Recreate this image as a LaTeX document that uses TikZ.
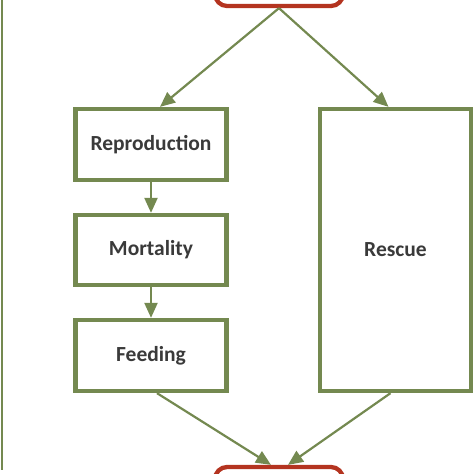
\documentclass[tikz,border=0pt]{standalone}
\usepackage{fontspec}
\setmainfont{Carlito}
\usetikzlibrary{arrows.meta}
\definecolor{olive}{RGB}{116,137,80}
\definecolor{brick}{RGB}{180,52,32}
\definecolor{ink}{RGB}{58,58,58}
\begin{document}
\begin{tikzpicture}[
        x=1pt, y=-1pt,
        stage/.style={draw=olive, line width=4.3pt, fill=white, minimum width=151pt,
            text=ink, font=\fontsize{21.5}{24}\selectfont\bfseries, inner sep=0pt},
        endbox/.style={draw=brick, line width=4.3pt, rounded corners=12pt, fill=white,
            minimum width=128pt, minimum height=40pt},
        link/.style={draw=olive, line width=2.2pt, -{Triangle[width=13pt,length=15pt]}},
    ]
    \useasboundingbox (0,0) rectangle (474,474);
    \node[endbox](start) at (279,-14) {};
    \node[endbox](finish) at (279,487) {};
    \node[stage, minimum height=71pt](repro) at (151,144.5) {Reproduction};
    \node[stage, minimum height=70pt](mort) at (151,250) {Mortality};
    \node[stage, minimum height=71pt](feed) at (151,355.5) {Feeding};
    \node[stage, minimum height=282pt](rescue) at (395.5,250) {Rescue};
    % connectors
    \draw[link] (start.south) -- ([xshift=9pt]repro.north);
    \draw[link] (start.south) -- ([xshift=-7pt]rescue.north);
    \draw[link] (repro) -- (mort);
    \draw[link] (mort) -- (feed);
    \draw[link] ([xshift=6pt]feed.south) -- ([xshift=-8pt]finish.north);
    \draw[link] ([xshift=-5pt]rescue.south) -- ([xshift=9pt]finish.north);
    % frame edge
    \draw[olive, line width=2.5pt] (2,0) -- (2,470);
\end{tikzpicture}
\end{document}
